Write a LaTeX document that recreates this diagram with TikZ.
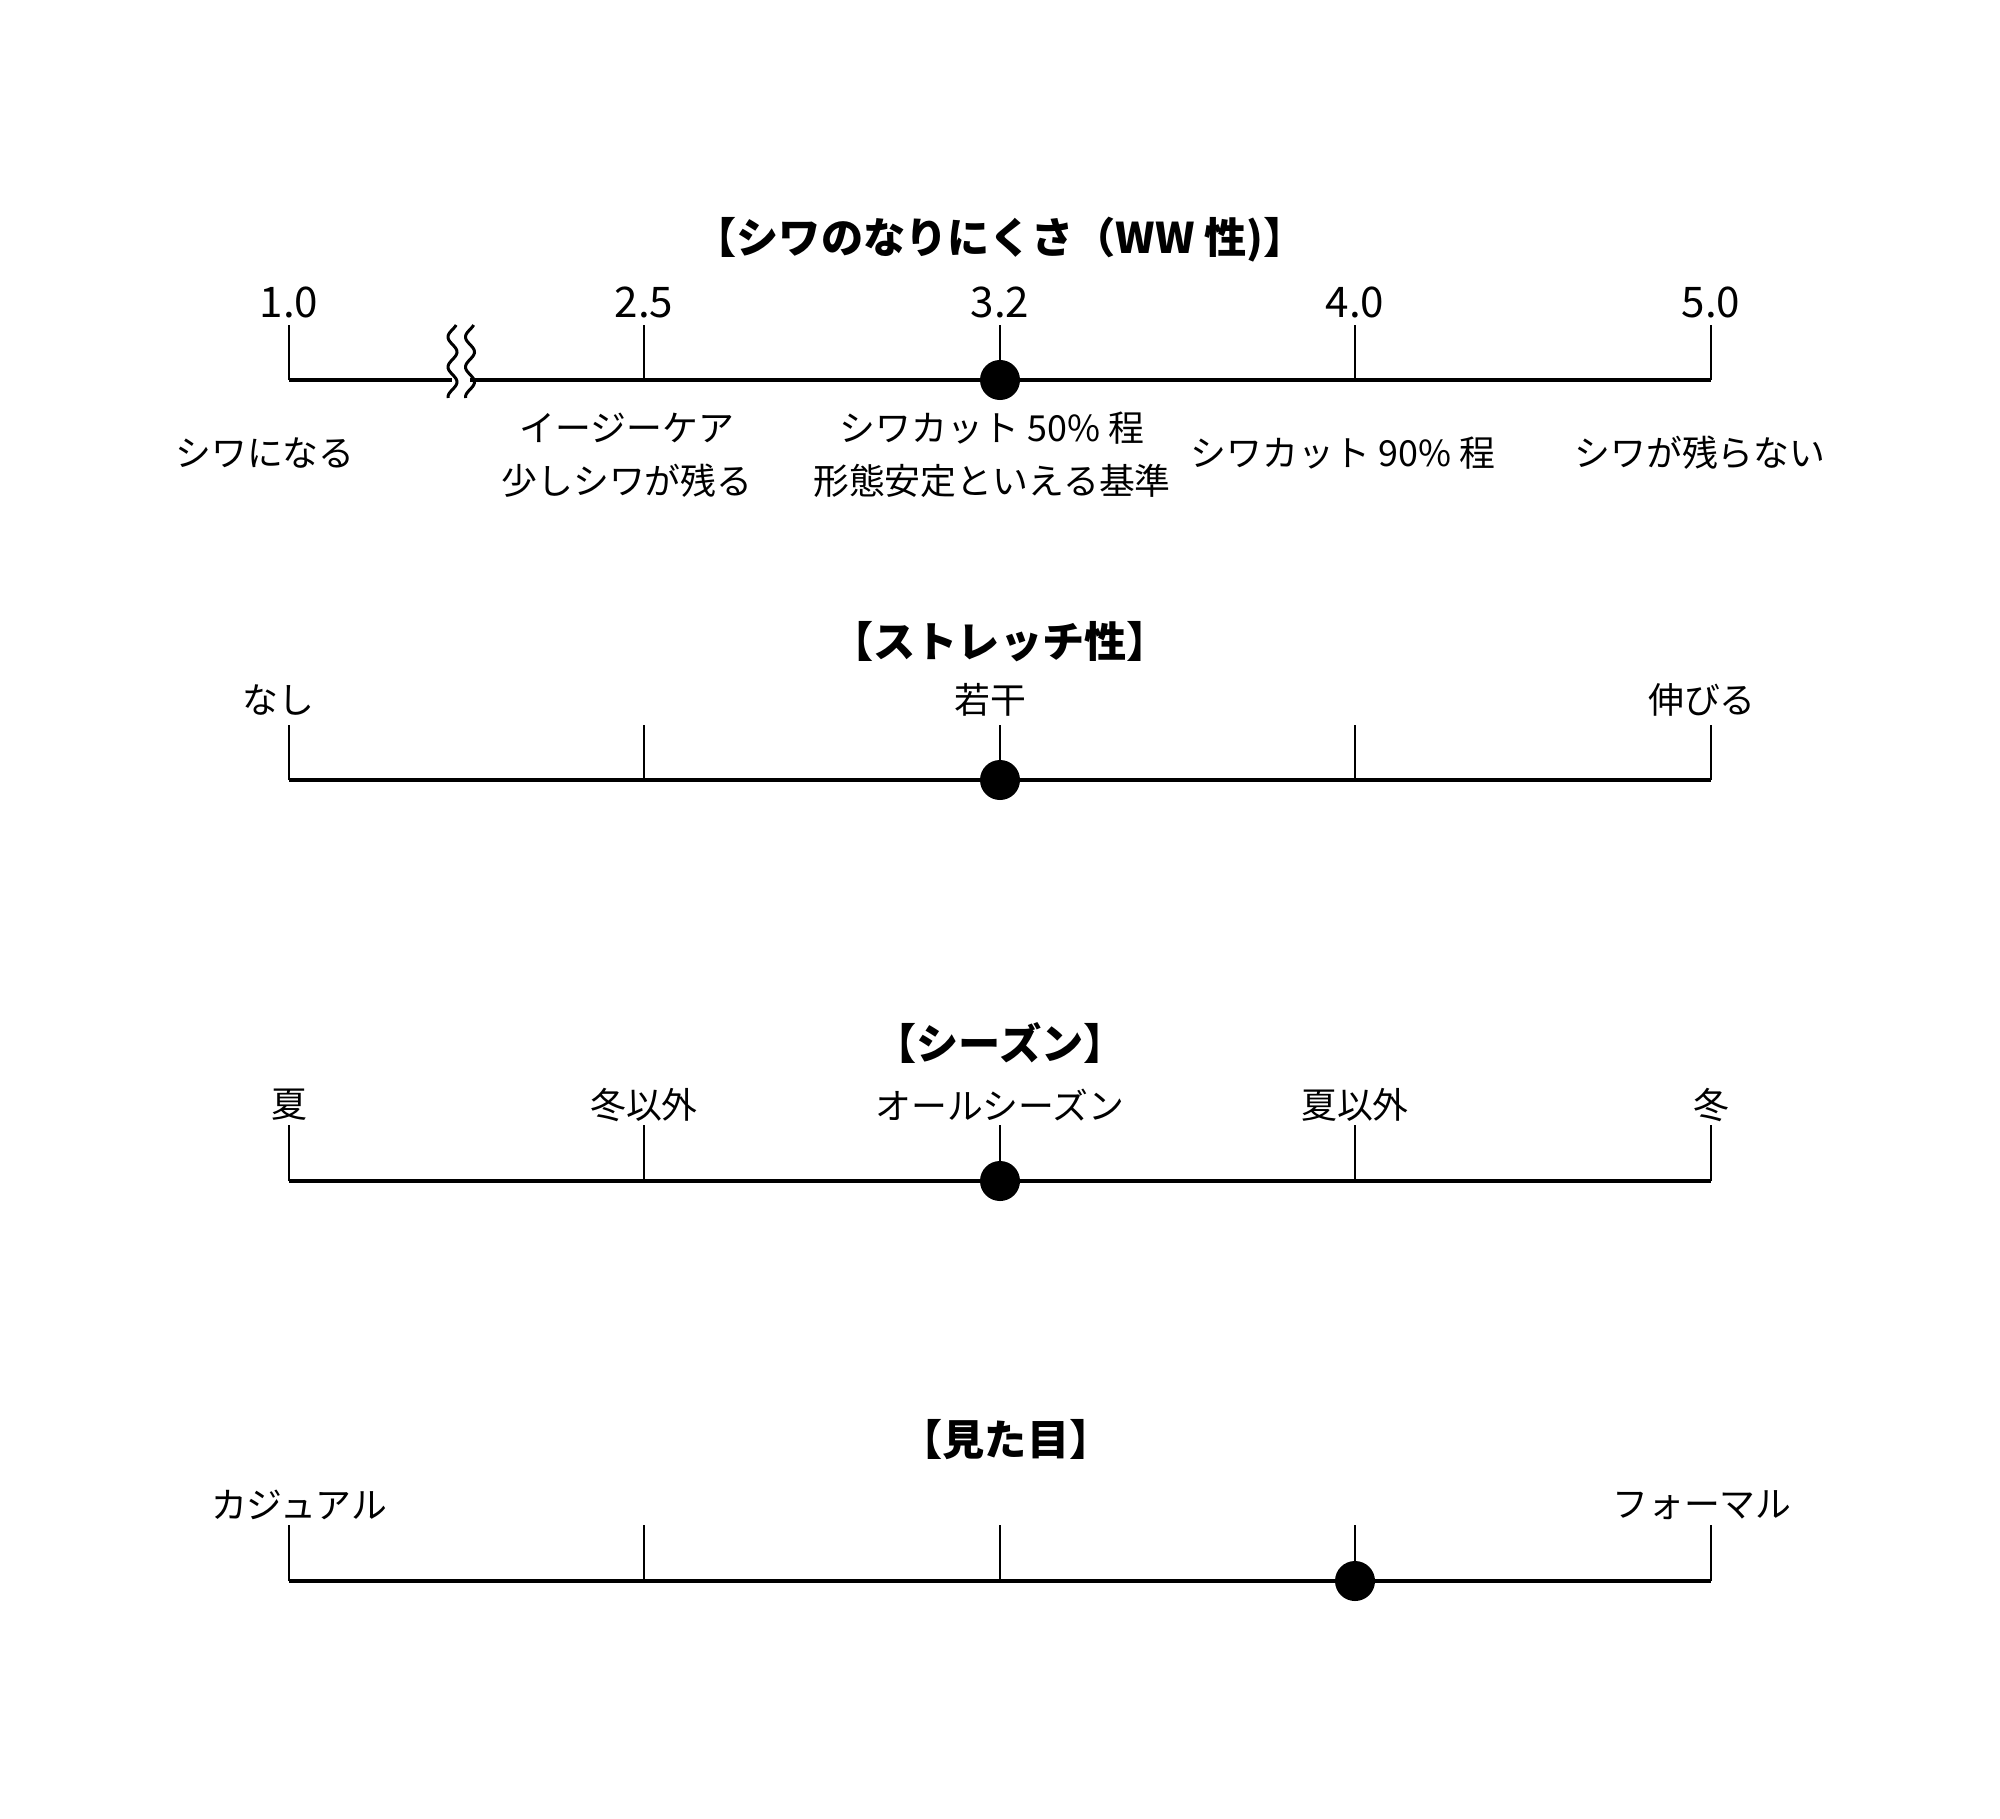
\documentclass[tikz,border=0pt]{standalone}
\usepackage{fontspec}
\setmainfont{Noto Sans CJK JP}
\begin{document}
\begin{tikzpicture}[x=0.01cm,y=-0.01cm,line width=0.75pt,line cap=butt,line join=miter,
  title/.style={font=\fontsize{12}{14}\selectfont\bfseries,inner sep=0pt},
  lbl/.style={font=\fontsize{10.2}{15}\selectfont,align=center,inner sep=0pt},
  num/.style={font=\fontsize{12}{14}\selectfont,inner sep=0pt},
  axis/.style={line width=0.95pt}]
\useasboundingbox (0,0) rectangle (2000,1818);

% WW
\node[title] (ww) at (1000,240) {【シワのなりにくさ（WW 性)】};
\node[num] (n10) at (289,302) {1.0};
\node[num] (n25) at (644,302) {2.5};
\node[num] (n32) at (1000,302) {3.2};
\node[num] (n40) at (1355,302) {4.0};
\node[num] (n50) at (1711,302) {5.0};
\draw
(289,325) -- (289,380)
(644,325) -- (644,380)
(1000,325) -- (1000,380)
(1355,325) -- (1355,380)
(1711,325) -- (1711,380);
\draw[axis] (289,380) -- (452,380) (470,380) -- (1711,380);
\draw[line width=0.85pt] plot[domain=325:398,samples=60,smooth] ({452.5-4.5*sin(180*(\x-329.5)/15)},\x);
\draw[line width=0.85pt] plot[domain=325:398,samples=60,smooth] ({470-4.5*sin(180*(\x-329.5)/15)},\x);
\fill (1000,380) circle (0.2cm);
\node[lbl] (w1) at (265,453) {シワになる};
\node[lbl] (w2) at (627,455) {イージーケア\\少しシワが残る};
\node[lbl] (w3) at (992,455) {シワカット 50\% 程\\形態安定といえる基準};
\node[lbl] (w4) at (1343,453) {シワカット 90\% 程};
\node[lbl] (w5) at (1700,453) {シワが残らない};

% stretch
\node[title] (st) at (1000,642) {【ストレッチ性】};
\node[lbl] (s1) at (278,700) {なし};
\node[lbl] (s3) at (990,700) {若干};
\node[lbl] (s5) at (1702,700) {伸びる};
\draw
(289,725) -- (289,780)
(644,725) -- (644,780)
(1000,725) -- (1000,780)
(1355,725) -- (1355,780)
(1711,725) -- (1711,780);
\draw[axis] (289,780) -- (1711,780);
\fill (1000,780) circle (0.2cm);

% season
\node[title] (se) at (1000,1043) {【シーズン】};
\node[lbl] (e1) at (289,1105) {夏};
\node[lbl] (e2) at (644,1105) {冬以外};
\node[lbl] (e3) at (1000,1105) {オールシーズン};
\node[lbl] (e4) at (1355,1105) {夏以外};
\node[lbl] (e5) at (1711,1105) {冬};
\draw
(289,1125) -- (289,1181)
(644,1125) -- (644,1181)
(1000,1125) -- (1000,1181)
(1355,1125) -- (1355,1181)
(1711,1125) -- (1711,1181);
\draw[axis] (289,1181) -- (1711,1181);
\fill (1000,1181) circle (0.2cm);

% look
\node[title] (lk) at (1006,1440) {【見た目】};
\node[lbl] (l1) at (299,1505) {カジュアル};
\node[lbl] (l5) at (1702,1505) {フォーマル};
\draw
(289,1525) -- (289,1581)
(644,1525) -- (644,1581)
(1000,1525) -- (1000,1581)
(1355,1525) -- (1355,1581)
(1711,1525) -- (1711,1581);
\draw[axis] (289,1581) -- (1711,1581);
\fill (1355,1581) circle (0.2cm);
\end{tikzpicture}
\end{document}
